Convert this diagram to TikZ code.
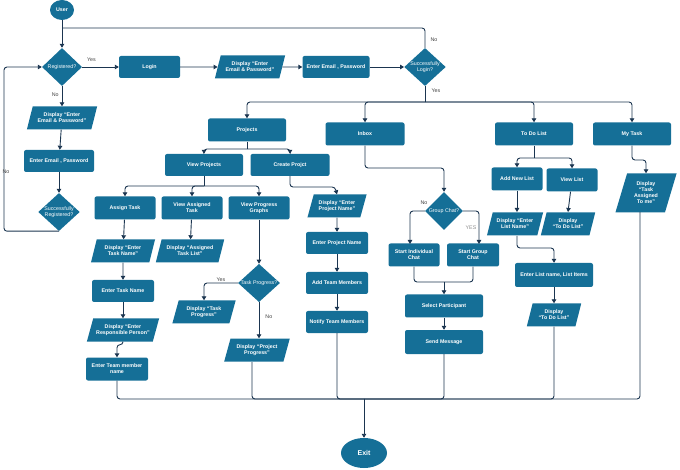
\documentclass[tikz,border=0pt]{standalone}
\usepackage{fontspec}
\setmainfont{Liberation Sans}
\usetikzlibrary{shapes.geometric,arrows.meta}
\definecolor{bfill}{HTML}{156F97}
\definecolor{lin}{HTML}{1B3550}
\tikzset{
 base/.style={fill=bfill,text=white,font=\bfseries\fontsize{5.3}{6}\selectfont,align=center,inner sep=1pt},
 box/.style={base,rectangle,rounded corners=2pt,minimum height=22pt,minimum width=60pt},
 io/.style={base,trapezium,trapezium left angle=64,trapezium right angle=116,trapezium stretches body,minimum height=23pt,inner xsep=5pt},
 dec/.style={base,diamond,aspect=1.1,minimum width=40pt,minimum height=38pt,inner sep=0pt,font=\fontsize{5.3}{6}\selectfont},
 term/.style={base,ellipse,inner sep=0pt},
 ln/.style={draw=lin,line width=0.9pt,rounded corners=3pt},
 arr/.style={ln,-{Triangle[length=4pt,width=4.5pt]}},
 lab/.style={font=\fontsize{5.3}{6}\selectfont,text=black!75,inner sep=0pt},
}
\begin{document}
\begin{tikzpicture}[x=1pt,y=-1pt]
\useasboundingbox (0,0) rectangle (680,470);
% nodes
\node[term,minimum width=24pt,minimum height=20pt] (user) at (62,10) {User};
\node[dec] (reg) at (62,67) {Registered?};
\node[box,minimum width=61pt] (login) at (149.5,67) {Login};
\node[io] (d1) at (250,67) {Display ``Enter\\Email \& Password''};
\node[box,minimum width=67pt] (e1) at (336,67) {Enter Email , Password};
\node[dec] (sl) at (425,67) {Successfully\\Login?};
\node[io] (d2) at (62,118) {Display ``Enter\\Email \& Password''};
\node[box,minimum width=70pt] (e2) at (59,161) {Enter Email , Password};
\node[dec] (sr) at (59,212) {Successfully\\Registered?};

\node[box,minimum width=78pt,minimum height=23pt] (proj) at (247,130) {Projects};
\node[box,minimum width=79pt,minimum height=23pt] (inbox) at (365,134) {Inbox};
\node[box,minimum width=78pt,minimum height=23pt] (todo) at (534,134) {To Do List};
\node[box,minimum width=78pt,minimum height=23pt] (mytask) at (632,134) {My Task};

\node[box,minimum width=78pt] (vp) at (204,165) {View Projects};
\node[box,minimum width=79pt] (cp) at (290,165) {Create Projct};
\node[box,minimum width=61pt,minimum height=23pt] (at) at (125,208) {Assign Task};
\node[box,minimum width=61pt,minimum height=23pt] (vat) at (192,208) {View Assigned\\Task};
\node[box,minimum width=61pt,minimum height=23pt] (vpg) at (259,208) {View Progress\\Graphs};

\node[io] (dpn) at (337,206) {Display ``Enter\\Project Name''};
\node[box,minimum width=62pt] (epn) at (337,243) {Enter Project Name};
\node[box,minimum width=62pt] (atm) at (337,283) {Add Team Members};
\node[box,minimum width=62pt] (ntm) at (337,322) {Notify Team Members};

\node[io,inner xsep=8pt] (dtn) at (123,251) {Display ``Enter\\Task Name''};
\node[box,minimum width=62pt] (etn) at (123,291) {Enter Task Name};
\node[io,inner xsep=3pt] (drp) at (123,330) {Display ``Enter\\Responsible Person''};
\node[box,minimum width=62pt,minimum height=23pt] (etm) at (117,369) {Enter Team member\\name};
\node[io] (datl) at (190,251) {Display ``Assigned\\Task List''};
\node[dec] (tp) at (259,283) {Task Progress?};
\node[io,inner xsep=8pt] (dtp) at (204,312) {Display ``Task\\Progress''};
\node[io,inner xsep=6pt] (dpp) at (257,350) {Display ``Project\\Progress''};

\node[dec,minimum width=38pt] (gc) at (444,211) {Group Chat?};
\node[box,minimum width=51pt,minimum height=23pt] (sic) at (414,255) {Start Individual\\Chat};
\node[box,minimum width=52pt,minimum height=23pt] (sgc) at (473,255) {Start Group\\Chat};
\node[box,minimum width=78pt,minimum height=23pt] (sp) at (444,306) {Select Participant};
\node[box,minimum width=78pt,minimum height=24pt] (sm) at (444,342) {Send Message};

\node[box,minimum width=51pt,minimum height=23pt] (anl) at (517,179) {Add New List};
\node[box,minimum width=51pt,minimum height=23pt] (vl) at (572,180) {View List};
\node[io,inner xsep=4pt] (dln) at (515,224) {Display ``Enter\\List Name''};
\node[io,inner xsep=6pt] (dtdl) at (568,224) {Display\\``To Do List''};
\node[box,minimum width=78pt,minimum height=24pt] (eli) at (554,275) {Enter List name, List Items};
\node[io,inner xsep=6pt] (dtdl2) at (554,315) {Display\\``To Do List''};
\node[io,inner xsep=7pt,minimum height=39pt] (dta) at (646,193) {Display\\``Task\\Assigned\\To me''};

\node[term,minimum width=46pt,minimum height=30pt,font=\bfseries\fontsize{7}{8}\selectfont] (exit) at (364,453) {Exit};

% coordinates
\coordinate (top) at (62,28);
\coordinate (ysplit) at (425,102);
\coordinate (bot) at (364,399);
\coordinate (loopL) at (4,140);

% connectors top
\draw[arr] (user) -- (reg);
\draw[ln] (sl.north) |- (top);
\draw[arr] (reg) -- node[lab,above=5pt,pos=0.25]{Yes} (login);
\draw[arr] (login) -- (d1);
\draw[arr] (d1) -- (e1);
\draw[arr] (e1) -- (sl);
\node[lab] at (434,40) {No};
\node[lab] at (436,91) {Yes};
\draw[arr] (reg) -- node[lab,left=3pt,pos=0.4]{No} (d2);
\draw[arr] (d2) -- (e2);
\draw[arr] (e2) -- (sr);
\draw[arr] (sr.south) -| (loopL) |- (reg.west);
\node[lab] at (6,172) {No};

\draw[ln] (sl.south) -- (ysplit);
\draw[arr] (ysplit) -| (proj);
\draw[arr] (ysplit) -| (inbox);
\draw[arr] (ysplit) -| (todo);
\draw[arr] (ysplit) -| (mytask);

% projects
\coordinate (ps) at (247,149);
\draw[ln] (proj) -- (ps);
\draw[arr] (ps) -| (vp);
\draw[arr] (ps) -| (cp);
\coordinate (vs) at (204,186);
\draw[ln] (vp) -- (vs);
\draw[arr] (vs) -| (at);
\draw[arr] (vs) -| (vat);
\draw[arr] (vs) -| (vpg);
\draw[arr] (cp.south) |- (335,187) -- (dpn.north);
\draw[arr] (dpn) -- (epn);
\draw[arr] (epn) -- (atm);
\draw[arr] (atm) -- (ntm);
\draw[arr] (at) -- (dtn);
\draw[arr] (dtn) -- (etn);
\draw[arr] (etn) -- (drp);
\draw[arr] (drp.south) -- ++(0,3) -| (etm.north);
\draw[arr] (vat) -- (datl);
\draw[arr] (vpg) -- (tp);
\draw[arr] (tp.west) -| node[lab,pos=0.25,above=1pt]{Yes} (dtp.north);
\draw[arr] (tp.south) -- node[lab,right=6pt,pos=0.4]{No} (tp.south |- dpp.north);

% inbox
\draw[arr] (inbox.south) |- (444,168) -- (gc.north);
\draw[arr] (gc.west) -| (410,244);
\node[lab] at (424,203) {No};
\draw[arr] (gc.east) -| (479,244);
\node[lab,text=black!45] at (471,228) {YES};
\coordinate (cm) at (444,282);
\draw[ln] (sic.south) |- (cm);
\draw[ln] (sgc.south) |- (cm);
\draw[arr] (cm) -- (sp);
\draw[arr] (sp) -- (sm);

% to do
\coordinate (ts) at (534,158);
\draw[ln] (todo) -- (ts);
\draw[arr] (ts) -| (anl);
\draw[arr] (ts) -| (vl);
\draw[arr] (anl) -- (517,212);
\draw[arr] (vl) -- (568,212);
\draw[arr] (517,236) |- (554,248) -- (eli.north);
\draw[arr] (eli) -- (dtdl2);
\draw[arr] (mytask.south) |- (646,160) -- (dta.north);

% collection
\draw[ln] (etm.south) |- (bot);
\draw[ln] (252,362) |- (bot);
\draw[ln] (ntm.south) |- (bot);
\draw[ln] (sm.south) |- (bot);
\draw[ln] (dtdl2.south) |- (bot);
\draw[ln] (640,212) |- (bot);
\draw[arr] (bot) -- (exit);
\end{tikzpicture}
\end{document}
